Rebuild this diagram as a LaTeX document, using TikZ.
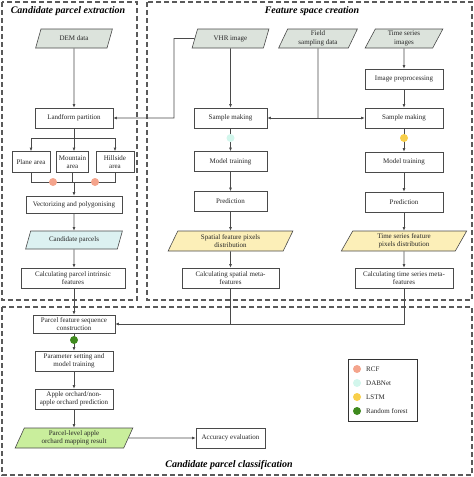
\documentclass[tikz,border=0pt]{standalone}
\usepackage{fontspec}
\setmainfont{Liberation Serif}
\usetikzlibrary{arrows.meta,shapes.geometric}
\definecolor{edge}{HTML}{4A4A4A}
\definecolor{regionc}{HTML}{5A5A5A}
\definecolor{grayfill}{HTML}{DCE3DC}
\definecolor{cyanfill}{HTML}{DCF1F1}
\definecolor{yelfill}{HTML}{FCEFB8}
\definecolor{grnfill}{HTML}{C9EE9C}
\definecolor{rcfc}{HTML}{F4A48C}
\definecolor{dabc}{HTML}{D2F6EC}
\definecolor{lstmc}{HTML}{F8CF4A}
\definecolor{rfc}{HTML}{3F8A1E}
\begin{document}
\begin{tikzpicture}[x=1pt,y=-1pt,
  every node/.style={font=\fontsize{7}{8.5}\selectfont, text=black!85},
  box/.style={draw=edge, line width=0.6pt, fill=white, rectangle, align=center, inner sep=1pt, minimum height=20},
  para/.style={draw=edge, line width=0.6pt, trapezium, trapezium left angle=70, trapezium right angle=110,
     trapezium stretches=true, align=center, inner xsep=1pt, inner ysep=1pt, minimum height=19},
  arr/.style={draw=edge, line width=0.6pt, -{Latex[length=3.5pt,width=2.8pt]}},
  ln/.style={draw=edge, line width=0.6pt},
  region/.style={draw=regionc, line width=1.3pt, dash pattern=on 5pt off 3pt},
  ttl/.style={font=\fontsize{10}{12}\selectfont\bfseries\itshape, text=black},
  dot/.style={circle, minimum size=8, inner sep=0pt, draw=none}
]
\useasboundingbox (0,0) rectangle (474,477);
% regions
\draw[region] (2,2) rectangle (137,300);
\draw[region] (147,2) rectangle (472,300);
\draw[region] (2,307) rectangle (472,475);
\node[ttl] (t1) at (68,11) {Candidate parcel extraction};
\node[ttl] (t2) at (312,11) {Feature space creation};
\node[ttl] (t3) at (229,465) {Candidate parcel classification};

% left column
\node[para, fill=grayfill, minimum width=77] (dem) at (74,38.5) {DEM data};
\node[box, minimum width=78] (land) at (74,118) {Landform partition};
\node[box, minimum width=38, minimum height=21] (plane) at (31,162) {Plane area};
\node[box, minimum width=32, minimum height=21] (mount) at (72.5,162) {Mountain\\area};
\node[box, minimum width=38, minimum height=21] (hill) at (115,162) {Hillside\\area};
\node[box, minimum width=96, minimum height=17] (vect) at (74,204.5) {Vectorizing and polygonising};
\node[para, fill=cyanfill, minimum width=97, minimum height=18] (cand) at (74,240) {Candidate parcels};
\node[box, minimum width=104] (calcp) at (73,278) {Calculating parcel intrinsic\\features};
\node[box, minimum width=82, minimum height=18] (pfsc) at (74,324) {Parcel feature sequence\\construction};
\node[box, minimum width=78] (param) at (74,361) {Parameter setting and\\model training};
\node[box, minimum width=78] (apple) at (74,399) {Apple orchard/non-\\apple orchard prediction};
\node[para, fill=grnfill, minimum width=118, minimum height=20] (plmr) at (74,438) {Parcel-level apple\\orchard mapping result};
\node[box, minimum width=69] (acc) at (230.5,438) {Accuracy evaluation};

% middle / right columns
\node[para, fill=grayfill, minimum width=77] (vhr) at (230.5,38.5) {VHR image};
\node[para, fill=grayfill, minimum width=79] (field) at (318,38.5) {Field\\sampling data};
\node[para, fill=grayfill, minimum width=78] (tsi) at (404,38.5) {Time series\\images};
\node[box, minimum width=78] (imgpre) at (404,79) {Image preprocessing};
\node[box, minimum width=73] (smL) at (230.5,118) {Sample making};
\node[box, minimum width=78] (smR) at (404,118) {Sample making};
\node[box, minimum width=73] (mtL) at (230.5,161.5) {Model training};
\node[box, minimum width=78] (mtR) at (404,162) {Model training};
\node[box, minimum width=73] (prL) at (230.5,201.5) {Prediction};
\node[box, minimum width=78] (prR) at (404,202) {Prediction};
\node[para, fill=yelfill, minimum width=125, minimum height=20] (sfpd) at (230.5,241) {Spatial feature pixels\\distribution};
\node[para, fill=yelfill, minimum width=126, minimum height=20] (tsfpd) at (404,241) {Time series feature\\pixels distribution};
\node[box, minimum width=97] (calcs) at (230.5,278) {Calculating spatial meta-\\features};
\node[box, minimum width=98] (calct) at (404,278) {Calculating time series meta-\\features};

% coordinates
\coordinate (lsplit) at (74,138);
\coordinate (lmerge) at (74,182);
\coordinate (vturn) at (174,38.5);
\coordinate (fturn) at (318,118);

% connectors left
\draw[arr] (dem) -- (land);
\draw[ln] (land.south) -- (lsplit);
\draw[arr] (lsplit) -| (plane.north);
\draw[arr] (lsplit) -| (hill.north);
\draw[arr] (lsplit) -- (lsplit |- mount.north);
\draw[ln] (plane.south) |- (lmerge);
\draw[ln] (hill.south) |- (lmerge);
\draw[ln] (mount.south) -- (mount.south |- lmerge);
\draw[arr] (lmerge) -- (vect.north -| lmerge);
\draw[arr] (vect.south -| cand) -- (cand);
\draw[arr] (cand) -- (cand |- calcp.north);
\draw[arr] (calcp.south -| pfsc) -- (pfsc.north);
\draw[arr] (pfsc) -- (param);
\draw[arr] (param) -- (apple);
\draw[arr] (apple) -- (plmr);
\draw[arr] (plmr) -- (acc);

% connectors middle/right
\draw[arr] (vhr.west) -- (vturn) |- (land.east);
\draw[arr] (vhr) -- (smL);
\draw[ln] (field.south) -- (fturn);
\draw[arr] (fturn) -- (smL.east);
\draw[arr] (fturn) -- (smR.west);
\draw[arr] (tsi) -- (imgpre);
\draw[arr] (imgpre) -- (smR);
\draw[arr] (smL) -- (mtL);
\draw[arr] (smR) -- (mtR);
\draw[arr] (mtL) -- (prL);
\draw[arr] (mtR) -- (prR);
\draw[arr] (prL) -- (sfpd);
\draw[arr] (prR) -- (tsfpd);
\draw[arr] (sfpd) -- (calcs);
\draw[arr] (tsfpd) -- (calct);
\draw[arr] (calct.south) |- (pfsc.east);
\draw[ln] (calcs.south) -- (calcs.south |- pfsc.east);

% model dots
\node[dot, fill=rcfc] (d1) at (53,182) {};
\node[dot, fill=rcfc] (d2) at (95,182) {};
\node[dot, fill=dabc] (d3) at (230.5,138) {};
\node[dot, fill=lstmc] (d4) at (404,138) {};
\node[dot, fill=rfc] (d5) at (74,340) {};

% legend
\node[draw=black!80, line width=0.8pt, minimum width=69, minimum height=62, inner sep=0pt] (legend) at (382.5,390) {};
\node[dot, fill=rcfc] (l1) at (357,369) {};
\node[dot, fill=dabc] (l2) at (357,383) {};
\node[dot, fill=lstmc] (l3) at (357,397) {};
\node[dot, fill=rfc] (l4) at (357,411) {};
\node[anchor=west, inner sep=0pt] (lt1) at (366,369) {RCF};
\node[anchor=west, inner sep=0pt] (lt2) at (366,383) {DABNet};
\node[anchor=west, inner sep=0pt] (lt3) at (366,397) {LSTM};
\node[anchor=west, inner sep=0pt] (lt4) at (366,411) {Random forest};
\end{tikzpicture}
\end{document}
